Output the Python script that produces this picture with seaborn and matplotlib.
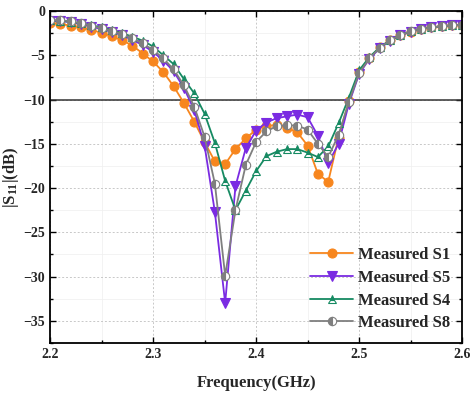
import numpy as np
import pandas as pd
import seaborn as sns
from matplotlib import pyplot as plt, rcParams
from matplotlib.ticker import MultipleLocator, FormatStrFormatter

# frequency points (GHz), 0.01 step
freq = [2.20, 2.21, 2.22, 2.23, 2.24, 2.25, 2.26, 2.27, 2.28, 2.29,
        2.30, 2.31, 2.32, 2.33, 2.34, 2.35, 2.36, 2.37, 2.38, 2.39,
        2.40, 2.41, 2.42, 2.43, 2.44, 2.45, 2.46, 2.47, 2.48, 2.49,
        2.50, 2.51, 2.52, 2.53, 2.54, 2.55, 2.56, 2.57, 2.58, 2.59, 2.60]

s1 = [-1.3, -1.45, -1.65, -1.85, -2.15, -2.45, -2.85, -3.3, -3.9, -4.8,
      -5.7, -6.9, -8.5, -10.4, -12.5, -14.8, -17.0, -17.3, -15.6, -14.4,
      -13.4, -12.95, -12.9, -13.2, -13.7, -15.2, -18.4, -19.3, -14.3, -10.2,
      -6.9, -5.3, -4.1, -3.3, -2.75, -2.35, -2.05, -1.85, -1.72, -1.62, -1.55]

s5 = [-1.1, -1.15, -1.25, -1.5, -1.75, -2.05, -2.35, -2.75, -3.25, -3.85,
      -4.6, -5.6, -6.8, -8.7, -11.2, -15.2, -22.7, -33.0, -19.8, -15.5,
      -13.5, -12.6, -12.1, -11.9, -11.7, -12.0, -14.1, -17.2, -15.0, -10.5,
      -7.1, -5.4, -4.2, -3.35, -2.75, -2.35, -2.05, -1.85, -1.72, -1.62, -1.55]

s4 = [-1.05, -1.1, -1.2, -1.4, -1.6, -1.85, -2.15, -2.5, -2.9, -3.35,
      -4.0, -5.0, -6.0, -7.7, -9.3, -11.6, -14.9, -19.2, -22.5, -20.3,
      -18.1, -16.4, -15.9, -15.6, -15.6, -16.0, -16.5, -15.3, -12.7, -9.8,
      -6.7, -5.2, -4.1, -3.3, -2.7, -2.3, -2.0, -1.85, -1.72, -1.62, -1.55]

s8 = [-1.0, -1.05, -1.15, -1.4, -1.65, -1.95, -2.25, -2.6, -3.1, -3.65,
      -4.4, -5.35, -6.6, -8.4, -10.8, -14.2, -19.5, -29.9, -22.5, -17.4,
      -14.8, -13.6, -13.0, -12.9, -12.95, -13.4, -15.0, -16.5, -14.0, -10.3,
      -7.0, -5.35, -4.15, -3.3, -2.7, -2.3, -2.0, -1.85, -1.72, -1.62, -1.55]

labels = ['Measured S1', 'Measured S5', 'Measured S4', 'Measured S8']

sns.set_theme(style='ticks')
rcParams['font.family'] = ['Liberation Serif', 'DejaVu Serif']
rcParams['font.weight'] = 'bold'
rcParams['mathtext.fontset'] = 'custom'
rcParams['mathtext.rm'] = 'Liberation Serif:bold'
rcParams['mathtext.it'] = 'Liberation Serif:bold'
rcParams['mathtext.default'] = 'rm'

df = pd.DataFrame({'freq': freq, 'S1': s1, 'S5': s5, 'S4': s4, 'S8': s8})

fig, ax = plt.subplots(figsize=(4.74, 3.95), dpi=100)
fig.subplots_adjust(left=0.1055, right=0.975, top=0.972, bottom=0.132)

ax.grid(True, which='major', color='#c8c8c8', linestyle=(0, (2, 2)), linewidth=0.7)
ax.grid(True, which='minor', color='#efefef', linestyle='-', linewidth=0.5)
ax.set_axisbelow(True)

ax.axhline(-10, color='#333333', linewidth=1.1, zorder=1.5)

styles = [
    dict(col='S1', color='#f7861e', marker='o', markersize=6.5, fillstyle='full'),
    dict(col='S5', color='#7a2be2', marker='v', markersize=7, fillstyle='full'),
    dict(col='S4', color='#168a62', marker='^', markersize=5.5, fillstyle='top'),
    dict(col='S8', color='#7f7f7f', marker='o', markersize=6, fillstyle='left'),
]

for st, lab in zip(styles, labels):
    sns.lineplot(data=df, x='freq', y=st['col'], ax=ax, label=lab,
                 color=st['color'], linewidth=1.3, marker=st['marker'],
                 markersize=st['markersize'], fillstyle=st['fillstyle'],
                 markerfacecolor=st['color'], markerfacecoloralt='white',
                 markeredgecolor=st['color'], markeredgewidth=0.8)

ax.set_xlim(2.2, 2.6)
ax.set_ylim(-37.5, 0)
ax.xaxis.set_major_locator(MultipleLocator(0.1))
ax.xaxis.set_minor_locator(MultipleLocator(0.05))
ax.xaxis.set_major_formatter(FormatStrFormatter('%.1f'))
ax.yaxis.set_major_locator(MultipleLocator(5))
ax.yaxis.set_minor_locator(MultipleLocator(2.5))

ax.tick_params(which='both', direction='in', top=True, right=True,
               labelsize=10, color='black', width=1.0)
ax.tick_params(which='major', length=4)
ax.tick_params(which='minor', length=2.5)
for lbl in ax.get_xticklabels() + ax.get_yticklabels():
    lbl.set_fontweight('bold')
for sp in ax.spines.values():
    sp.set_linewidth(1.3)
    sp.set_color('black')

ax.set_xlabel('Frequency(GHz)', fontsize=12, fontweight='bold', labelpad=10)
ax.set_ylabel(r'|S$_{11}$|(dB)', fontsize=12, fontweight='bold', labelpad=2)

ax.legend(loc='lower right', frameon=False, handlelength=2.6,
          handletextpad=0.3, labelspacing=0.4, borderaxespad=0.3,
          prop={'weight': 'bold', 'size': 12})

fig.savefig('out.png', dpi=100)
